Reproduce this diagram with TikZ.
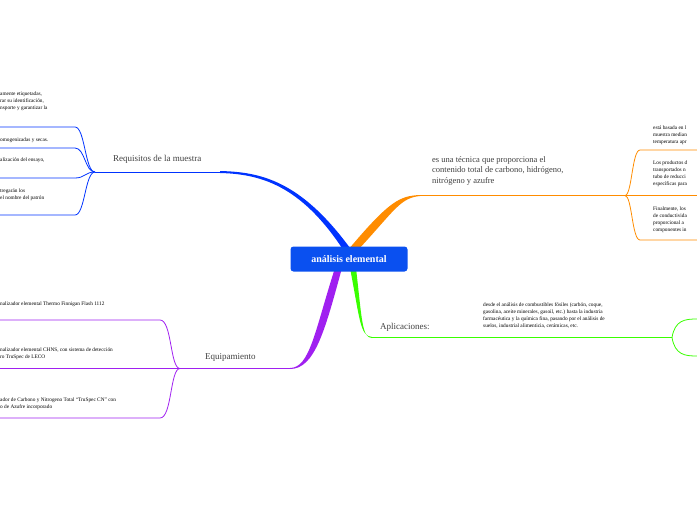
\documentclass[tikz,border=0pt]{standalone}
\usepackage{fontspec}
\setmainfont{Liberation Serif}
\definecolor{pv}{HTML}{A020F0}
\definecolor{cb}{HTML}{0A50F0}
\begin{document}
\begin{tikzpicture}[x=1pt,y=-1pt,
 small/.style={anchor=north west,align=left,font=\fontsize{5.3}{7}\selectfont,inner sep=0pt},
 lab/.style={anchor=west,font=\fontsize{9}{11}\selectfont,text=black!75,inner sep=0pt},
 bl/.style={draw=blue!80!cyan,line width=1pt},
 og/.style={draw=orange!90!yellow,line width=1pt},
 gr/.style={draw=green!70!lime,line width=1pt},
 pu/.style={draw=pv,line width=1pt}]
\useasboundingbox (0,0) rectangle (697,520);
% main branches
\fill[blue!80!cyan] (350,248) .. controls (300,180) and (260,172) .. (220,171) -- (220,173) .. controls (260,174) and (300,185) .. (342,248) -- cycle;
\draw[bl] (220,172) -- (95,172);
\fill[orange!90!yellow] (348,250) .. controls (390,200) and (400,196) .. (420,195) -- (420,196) .. controls (400,198) and (395,210) .. (358,250) -- cycle;
\draw[og] (420,195.5) -- (612,195.5);
\fill[green!70!lime] (350,268) .. controls (360,320) and (360,336) .. (372,337) -- (372,338) .. controls (362,338) and (362,320) .. (356,268) -- cycle;
\draw[gr] (372,337.5) -- (665,337.5);
\fill[pv] (335,268) .. controls (315,330) and (310,368) .. (290,368) -- (290,369) .. controls (315,369) and (325,330) .. (342,268) -- cycle;
\draw[pu] (290,368.5) -- (180,368.5);
% center
\node[fill=cb,rounded corners=3pt,minimum width=117pt,minimum height=25pt,text=white,font=\bfseries\fontsize{10}{12}\selectfont] (c) at (349,259) {análisis elemental};
% labels
\node[lab] (r) at (113,159) {Requisitos de la muestra};
\node[lab,anchor=north west,align=left,font=\fontsize{8.5}{10.5}\selectfont] (t) at (432,156) {es una técnica que proporciona el\\contenido total de carbono, hidrógeno,\\nitrógeno y azufre};
\node[lab] (a) at (380,327) {Aplicaciones:};
\node[lab] (e) at (205,357) {Equipamiento};
% blue leaves
\foreach \y in {127,148,178,215}{\draw[bl,line width=0.8pt] (0,\y) -- (75,\y) .. controls (85,\y) and (85,172) .. (95,172);}
\node[small] (b1) at (0,92) {amente etiquetadas,\\rar su identificación,\\nsporte y garantizar la};
\node[small] (b2) at (0,138) {omogenizadas y secas.};
\node[small] (b3) at (0,158) {alización del ensayo,};
\node[small] (b4) at (0,189) {tregarán los\\el nombre del patrón};
% orange leaves
\foreach \y in {150,195.5,240}{\draw[og,line width=0.8pt] (612,195.5) -- (625,195.5) .. controls (632,195.5) and (632,\y) .. (640,\y) -- (697,\y);}
\node[small] (o1) at (653,126) {está basada en l\\muestra median\\temperatura apr};
\node[small] (o2) at (653,161) {Los productos d\\transportados n\\tubo de reducci\\específicas para};
\node[small] (o3) at (653,207) {Finalmente, los\\de conductivida\\proporcional a\\componentes in};
% green leaf
\node[small] (g1) at (483,303) {desde el análisis de combustibles fósiles (carbón, coque,\\gasolina, aceite minerales, gasoil, etc.) hasta la industria\\farmacéutica y la química fina, pasando por el análisis de\\suelos, industrial alimenticia, cerámicas, etc.};
\draw[gr,line width=0.8pt] (665,337.5) -- (672,337.5) .. controls (675,320) and (685,319) .. (697,319);
\draw[gr,line width=0.8pt] (672,337.5) .. controls (675,355) and (685,356) .. (697,356);
% purple leaves
\foreach \y in {320,368.5,418}{\draw[pu,line width=0.8pt] (180,368.5) .. controls (170,368.5) and (172,\y) .. (160,\y) -- (0,\y);}
\node[small] (p1) at (0,302) {nalizador elemental Thermo Finnigan Flash 1112};
\node[small] (p2) at (0,348) {nalizador elemental CHNS, con sistema de detección\\ro TruSpec de LECO};
\node[small] (p3) at (0,398) {ador de Carbono y Nitrogeno Total ``TruSpec CN''  con\\o de Azufre incorporado};
\end{tikzpicture}
\end{document}
